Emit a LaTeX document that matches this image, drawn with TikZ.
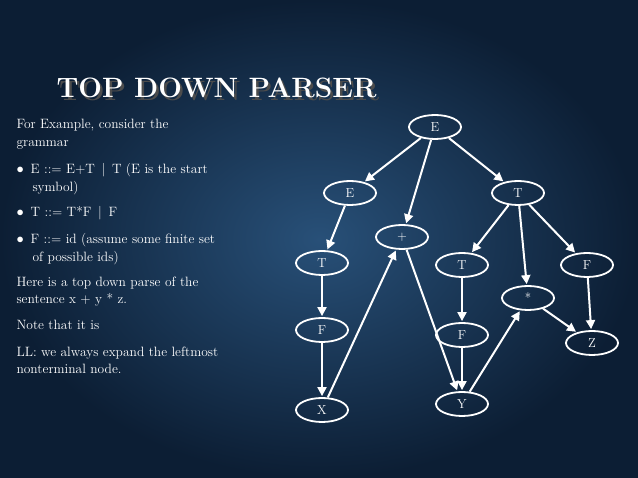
\documentclass[tikz,border=0pt]{standalone}
\usetikzlibrary{shapes.geometric,arrows.meta}
\begin{document}
\begin{tikzpicture}[x=1pt,y=-1pt,
  nd/.style={ellipse,draw=white,line width=1.8pt,minimum width=52pt,minimum height=24pt,inner sep=0pt,text=white,font=\fontsize{13}{15}\selectfont},
  ar/.style={draw=white,line width=2pt,-{Triangle[length=9pt,width=9pt]},shorten >=1pt},
  txt/.style={text=white,anchor=north west,align=left,font=\fontsize{13.5}{17.5}\selectfont}]
\shade[inner color={rgb,255:red,40;green,80;blue,120},outer color={rgb,255:red,12;green,30;blue,52}] (0,0) rectangle (638,478);
\useasboundingbox (0,0) rectangle (638,478);
\node[text=black!70,font=\bfseries\fontsize{28}{32}\selectfont,anchor=west] at (55.5,90.5) {TOP DOWN PARSER};
\node (title) [text=white,font=\bfseries\fontsize{28}{32}\selectfont,anchor=west] at (53,88) {TOP DOWN PARSER};
\node (t1) [txt] at (13,116) {For Example, consider the\\grammar};
\node (b1) [txt] at (13,160) {$\bullet$\hspace{7pt}E ::= E+T \,|\, T (E is the start\\\hspace{16pt}symbol)};
\node (b2) [txt] at (13,203) {$\bullet$\hspace{7pt}T ::= T*F \,|\, F};
\node (b3) [txt] at (13,230) {$\bullet$\hspace{7pt}F ::= id (assume some finite set\\\hspace{16pt}of possible ids)};
\node (t2) [txt] at (13,273) {Here is a top down parse of the\\sentence x + y * z.};
\node (t3) [txt] at (13,317) {Note that it is};
\node (t4) [txt] at (13,343) {LL: we always expand the leftmost\\nonterminal node.};
\node[nd] (E0) at (435,127) {E};
\node[nd] (E1) at (350,193) {E};
\node[nd] (T0) at (518,193) {T};
\node[nd] (P) at (402,237) {+};
\node[nd] (T1) at (322,263) {T};
\node[nd] (T2) at (462,265) {T};
\node[nd] (F0) at (587,265) {F};
\node[nd] (S) at (528,298) {*};
\node[nd] (F1) at (322,330) {F};
\node[nd] (F2) at (462,335) {F};
\node[nd] (Z) at (592,343) {Z};
\node[nd] (X) at (322,410) {X};
\node[nd] (Y) at (462,404) {Y};
\draw[ar] (E0) -- (E1);
\draw[ar] (E0) -- (P);
\draw[ar] (E0) -- (T0);
\draw[ar] (E1) -- (T1);
\draw[ar] (T1) -- (F1);
\draw[ar] (F1) -- (X);
\draw[ar] (X) -- (P);
\draw[ar] (P) -- (Y);
\draw[ar] (T0) -- (T2);
\draw[ar] (T0) -- (S);
\draw[ar] (T0) -- (F0);
\draw[ar] (T2) -- (F2);
\draw[ar] (F2) -- (Y);
\draw[ar] (Y) -- (S);
\draw[ar] (S) -- (Z);
\draw[ar] (F0) -- (Z);
\end{tikzpicture}
\end{document}
